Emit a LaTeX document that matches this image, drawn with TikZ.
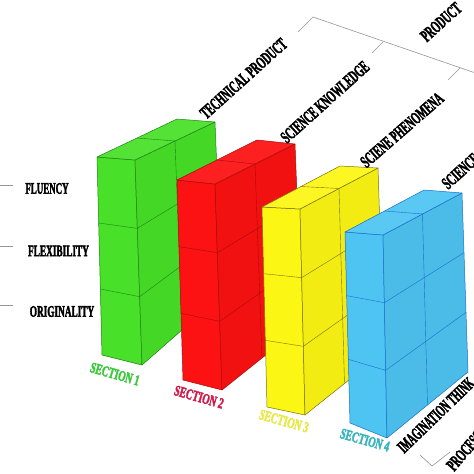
\documentclass[tikz,border=0pt]{standalone}
\usepackage{fontspec}
\setmainfont{Liberation Serif}
\newfontfamily\heavyfont[BoldFeatures={FakeBold=3}]{Liberation Serif}
\usepackage{graphicx}
\usetikzlibrary{calc}
\definecolor{gfill}{RGB}{72,224,40}
\definecolor{gline}{RGB}{30,130,20}
\definecolor{rfill}{RGB}{252,18,18}
\definecolor{rline}{RGB}{170,10,10}
\definecolor{yfill}{RGB}{252,246,20}
\definecolor{yline}{RGB}{120,115,20}
\definecolor{bfill}{RGB}{78,196,242}
\definecolor{bline}{RGB}{25,110,205}
\definecolor{sonecol}{RGB}{60,200,60}
\definecolor{stwocol}{RGB}{205,30,75}
\definecolor{sthreecol}{RGB}{232,232,70}
\definecolor{sfourcol}{RGB}{55,180,190}
\definecolor{brk}{RGB}{150,150,150}
\newcommand\cnd[2]{\scalebox{#1}[1]{#2}}
\newcommand\drawblk[2]{%
  \coordinate (D) at ($(A)+(C)-(B)$);
  \filldraw[fill=#1,draw=#2,line width=0.5pt,line join=round] (A)--(B)--(Bp)--(Ap)--cycle;
  \filldraw[fill=#1!96!black,draw=#2,line width=0.5pt,line join=round] (B)--(C)--(Cp)--(Bp)--cycle;
  \filldraw[fill=#1!94!white,draw=#2,line width=0.5pt,line join=round] (A)--(B)--(C)--(D)--cycle;
  \draw[#2,line width=0.4pt] ($(A)!1/3!(Ap)$)--($(B)!1/3!(Bp)$)--($(C)!1/3!(Cp)$);
  \draw[#2,line width=0.4pt] ($(A)!2/3!(Ap)$)--($(B)!2/3!(Bp)$)--($(C)!2/3!(Cp)$);
  \draw[#2,line width=0.4pt] ($(B)!0.5!(C)$)--($(Bp)!0.5!(Cp)$);
  \draw[#2,line width=0.4pt] ($(A)!0.5!(D)$)--($(B)!0.5!(C)$);
}
\tikzset{
  lbl/.style={font=\heavyfont\bfseries\fontsize{16}{16}\selectfont,inner sep=0pt,text=black},
  tlbl/.style={font=\heavyfont\bfseries\fontsize{17.5}{17.5}\selectfont,inner sep=0pt,text=black},
  sec/.style={font=\heavyfont\bfseries\fontsize{15}{15}\selectfont,inner sep=0pt,rotate=-16},
  tick/.style={draw=brk,line width=0.6pt}
}
\begin{document}
\begin{tikzpicture}[x=1pt,y=-1pt]
\useasboundingbox (0,0) rectangle (474,474);
\fill[white] (0,0) rectangle (474,474);
\clip (0,0) rectangle (474,474);

% left labels and ticks
\node[lbl] (flu) at (47,188.5) {\cnd{0.56}{FLUENCY}};
\node[lbl] (flex) at (58.5,251) {\cnd{0.58}{FLEXIBILITY}};
\node[lbl] (orig) at (62,311.5) {\cnd{0.58}{ORIGINALITY}};
\coordinate (t1a) at (0,185); \coordinate (t1b) at (13,185);
\coordinate (t2a) at (0,246); \coordinate (t2b) at (13,246);
\coordinate (t3a) at (0,305); \coordinate (t3b) at (13,305);
\draw[tick] (t1a)--(t1b);
\draw[tick] (t2a)--(t2b);
\draw[tick] (t3a)--(t3b);

% top bracket
\coordinate (ba) at (298,32);
\coordinate (bb) at (313,17);
\coordinate (bc) at (474,72.5);
\coordinate (bt1) at (383,42); \coordinate (bt1e) at (372,53);
\coordinate (bt2) at (460,68); \coordinate (bt2e) at (448,80);
\draw[tick] (ba)--(bb)--(bc);
\draw[tick] (bt1)--(bt1e);
\draw[tick] (bt2)--(bt2e);

% bottom bracket
\coordinate (bd) at (420,455);
\coordinate (be) at (432,466);
\coordinate (bf) at (450,452);
\draw[tick] (bd)--(be)--(bf);

% blocks: green
\coordinate (A) at (97,157); \coordinate (B) at (135,160); \coordinate (C) at (215,122);
\coordinate (Ap) at (102,355); \coordinate (Bp) at (142,365); \coordinate (Cp) at (222,295);
\drawblk{gfill}{gline}
% red
\coordinate (A) at (177,180); \coordinate (B) at (215,184); \coordinate (C) at (295,144);
\coordinate (Ap) at (183,380); \coordinate (Bp) at (222,390); \coordinate (Cp) at (302,326);
\drawblk{rfill}{rline}
% yellow
\coordinate (A) at (262,207); \coordinate (B) at (300,209); \coordinate (C) at (378,168);
\coordinate (Ap) at (267,407); \coordinate (Bp) at (305,415); \coordinate (Cp) at (384,352);
\drawblk{yfill}{yline}
% blue
\coordinate (A) at (345,232); \coordinate (B) at (383,235); \coordinate (C) at (462,193);
\coordinate (Ap) at (350,423); \coordinate (Bp) at (387,438); \coordinate (Cp) at (468,372);
\drawblk{bfill}{bline}

% section labels
\node[sec,text=sonecol] (s1) at (115,374) {\cnd{0.64}{SECTION 1}};
\node[sec,text=stwocol] (s2) at (199,397) {\cnd{0.64}{SECTION 2}};
\node[sec,text=sthreecol] (s3) at (284,421) {\cnd{0.64}{SECTION 3}};
\node[sec,text=sfourcol] (s4) at (365,440) {\cnd{0.64}{SECTION 4}};

% rotated top labels
\node[tlbl,rotate=42] (tp) at (243.5,78.5) {\cnd{0.56}{TECHNICAL PRODUCT}};
\node[tlbl,rotate=42] (sk) at (325,102) {\cnd{0.56}{SCIENCE KNOWLEDGE}};
\node[tlbl,rotate=41] (sp) at (402,130) {\cnd{0.56}{SCIENE PHENOMENA}};
\node[tlbl,rotate=42] (pr) at (441,22) {\cnd{0.56}{PRODUCT}};
\node[tlbl,rotate=42,anchor=base west] (sc) at (448,190) {\cnd{0.56}{SCIENCE}};
\node[tlbl,rotate=44,anchor=base west] (im) at (404,454) {\cnd{0.53}{IMAGINATION THINK}};
\node[tlbl,rotate=49,anchor=base west] (pc) at (454,472) {\cnd{0.56}{PROCESS}};
\end{tikzpicture}
\end{document}
